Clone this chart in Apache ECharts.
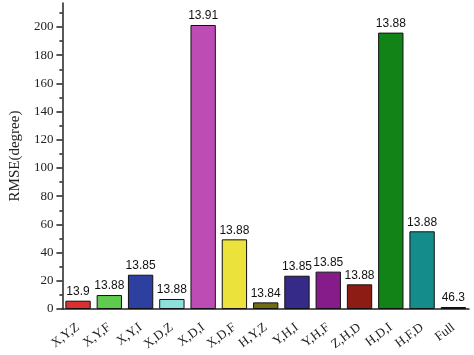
<!DOCTYPE html>
<html>
<head>
<meta charset="utf-8">
<script src="https://cdn.jsdelivr.net/npm/echarts@6/dist/echarts.min.js"></script>
<style>
  html, body { margin: 0; padding: 0; background: #fff; }
  #chart { width: 474px; height: 355px; }
</style>
</head>
<body>
<div id="chart"></div>
<script>
// categories and values
var categories = ['X,Y,Z', 'X,Y,F', 'X,Y,I', 'X,D,Z', 'X,D,I', 'X,D,F', 'H,Y,Z', 'Y,H,I', 'Y,H,F', 'Z,H,D', 'H,D,I', 'H,F,D', 'Full'];
var rmse = [5.9, 9.9, 24.3, 7.1, 201.4, 49.4, 4.7, 23.6, 26.5, 17.5, 196, 55.1, 1.4];
var barText = ['13.9', '13.88', '13.85', '13.88', '13.91', '13.88', '13.84', '13.85', '13.85', '13.88', '13.88', '13.88', '46.3'];
var barColors = ['#dc3030', '#5fcb4f', '#2d3f9f', '#8fe0dc', '#bd4cb5', '#ebe33b', '#6f6c14', '#362a88', '#851c8a', '#8c1c14', '#118317', '#158c8c', '#2d2d7f'];
var yTicks = [0, 20, 40, 60, 80, 100, 120, 140, 160, 180, 200];

var serif = '"Liberation Serif", "DejaVu Serif", serif';

var barData = rmse.map(function (v, i) {
  return {
    value: v,
    itemStyle: { color: barColors[i] },
    label: { formatter: barText[i] }
  };
});

var option = {
  animation: false,
  grid: { left: 53, right: 5, top: 3, bottom: 46 },
  xAxis: [{
    type: 'category',
    data: categories,
    axisLine: { lineStyle: { color: '#222', width: 1.5 } },
    axisTick: { alignWithLabel: true, length: 6, lineStyle: { color: '#222', width: 1.5 } },
    axisLabel: { rotate: 37, margin: 17, fontFamily: serif, fontSize: 13, color: '#222', interval: 0 }
  }, {
    // short boundary ticks between categories
    type: 'category',
    data: categories,
    position: 'bottom',
    axisLine: { show: false },
    axisTick: { length: 3, lineStyle: { color: '#222', width: 1.5 } },
    axisLabel: { show: false }
  }],
  yAxis: {
    type: 'value',
    min: 0,
    max: 217,
    interval: 20,
    name: 'RMSE(degree)',
    nameLocation: 'middle',
    nameGap: 33,
    nameTextStyle: { fontFamily: serif, fontSize: 15, color: '#222' },
    splitLine: { show: false },
    axisLine: { show: true, lineStyle: { color: '#222', width: 1.5 } },
    axisTick: { show: true, length: 6, customValues: yTicks, lineStyle: { color: '#222', width: 1.5 } },
    minorTick: { show: true, splitNumber: 2, length: 3, lineStyle: { color: '#222', width: 1.5 } },
    axisLabel: { customValues: yTicks, margin: 9, fontFamily: serif, fontSize: 13, color: '#222' }
  },
  series: [{
    type: 'bar',
    data: barData,
    barCategoryGap: '19%',
    itemStyle: { borderColor: '#111', borderWidth: 1 },
    label: {
      show: true,
      position: 'top',
      distance: 3,
      fontFamily: '"Liberation Sans", Arial, sans-serif',
      fontSize: 12,
      color: '#111'
    }
  }]
};

var mycharts = echarts.init(document.getElementById('chart'));
mycharts.setOption(option);
</script>
</body>
</html>
